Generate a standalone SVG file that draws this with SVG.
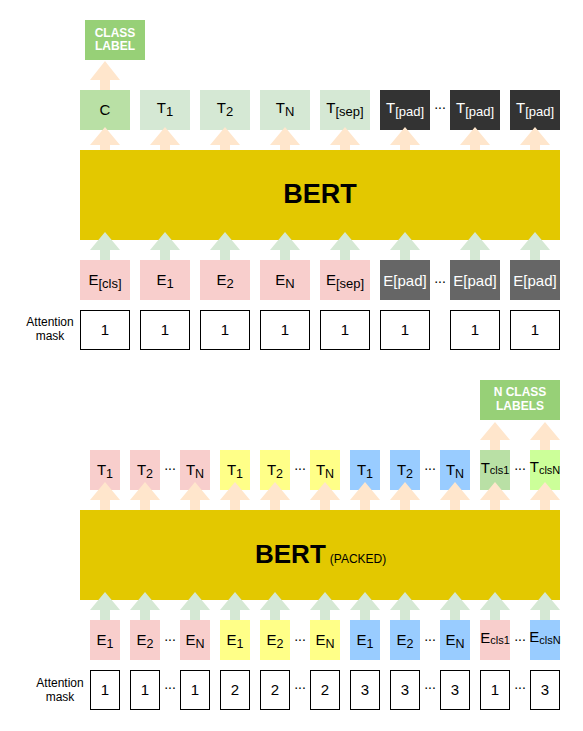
<svg xmlns="http://www.w3.org/2000/svg" width="583" height="731" viewBox="0 0 583 731">
<style>
text{font-family:"Liberation Sans",Arial,sans-serif;fill:#000}
.t{font-size:15px;text-anchor:middle}
.w{fill:#fff}
.lbl{font-size:12px;font-weight:bold;text-anchor:middle;fill:#fff}
.am{font-size:12px;text-anchor:middle}
.dots{font-size:14px;text-anchor:middle}
.m{fill:#fff;stroke:#000;stroke-width:1}
.up{fill:#ffe6cc}
.dn{fill:#d5e8d4}
.pink{fill:#f8cecc}
.lg{fill:#d5e8d4}
.cg{fill:#b9e0a5}
.dk{fill:#333333}
.gr{fill:#666666}
.yl{fill:#ffff88}
.bl{fill:#99ccff}
.lime{fill:#ccff99}
.cl{fill:#97d077}
.bert{fill:#e3c800}
</style>

<!-- ===== TOP SECTION ===== -->
<g id="class-label"><rect class="cl" x="85" y="20" width="60" height="40"/><text class="lbl" x="115" y="37">CLASS</text><text class="lbl" x="115" y="50">LABEL</text></g>

<g id="t-top-row">
<g id="t-c"><rect class="cg" x="80" y="90" width="50" height="40"/><text class="t" x="105" y="115">C</text></g>
<g id="t-1"><rect class="lg" x="140" y="90" width="50" height="40"/><text class="t" x="165" y="113">T<tspan font-size="13" dy="3">1</tspan></text></g>
<g id="t-2"><rect class="lg" x="200" y="90" width="50" height="40"/><text class="t" x="225" y="113">T<tspan font-size="13" dy="3">2</tspan></text></g>
<g id="t-n"><rect class="lg" x="260" y="90" width="50" height="40"/><text class="t" x="285" y="113">T<tspan font-size="13" dy="3">N</tspan></text></g>
<g id="t-sep"><rect class="lg" x="320" y="90" width="50" height="40"/><text class="t" x="345" y="113">T<tspan font-size="13" dy="3">[sep]</tspan></text></g>
<g id="t-pad1"><rect class="dk" x="380" y="90" width="50" height="40"/><text class="t w" x="405" y="113">T<tspan font-size="13" dy="3">[pad]</tspan></text></g>
<g id="t-pad2"><rect class="dk" x="450" y="90" width="50" height="40"/><text class="t w" x="475" y="113">T<tspan font-size="13" dy="3">[pad]</tspan></text></g>
<g id="t-pad3"><rect class="dk" x="510" y="90" width="50" height="40"/><text class="t w" x="535" y="113">T<tspan font-size="13" dy="3">[pad]</tspan></text></g>
<text class="dots" x="440" y="109">...</text>
</g>

<g id="bert-top"><rect class="bert" x="80" y="150" width="480" height="90"/><text x="320" y="203" font-size="27" font-weight="bold" text-anchor="middle">BERT</text></g>

<g id="e-top-row">
<g id="e-cls"><rect class="pink" x="80" y="260" width="50" height="40"/><text class="t" x="105" y="285">E<tspan font-size="13" dy="3">[cls]</tspan></text></g>
<g id="e-1"><rect class="pink" x="140" y="260" width="50" height="40"/><text class="t" x="165" y="285">E<tspan font-size="13" dy="3">1</tspan></text></g>
<g id="e-2"><rect class="pink" x="200" y="260" width="50" height="40"/><text class="t" x="225" y="285">E<tspan font-size="13" dy="3">2</tspan></text></g>
<g id="e-n"><rect class="pink" x="260" y="260" width="50" height="40"/><text class="t" x="285" y="285">E<tspan font-size="13" dy="3">N</tspan></text></g>
<g id="e-sep"><rect class="pink" x="320" y="260" width="50" height="40"/><text class="t" x="345" y="285">E<tspan font-size="13" dy="3">[sep]</tspan></text></g>
<g id="e-pad1"><rect class="gr" x="380" y="260" width="50" height="40"/><text class="t w" x="405" y="286">E[pad]</text></g>
<g id="e-pad2"><rect class="gr" x="450" y="260" width="50" height="40"/><text class="t w" x="475" y="286">E[pad]</text></g>
<g id="e-pad3"><rect class="gr" x="510" y="260" width="50" height="40"/><text class="t w" x="535" y="286">E[pad]</text></g>
<text class="dots" x="440" y="283">...</text>
</g>

<g id="mask-top">
<text class="am" x="50" y="326">Attention</text><text class="am" x="50" y="340">mask</text>
<rect class="m" x="80.5" y="310.5" width="49" height="39"/><text class="t" x="105" y="335">1</text>
<rect class="m" x="140.5" y="310.5" width="49" height="39"/><text class="t" x="165" y="335">1</text>
<rect class="m" x="200.5" y="310.5" width="49" height="39"/><text class="t" x="225" y="335">1</text>
<rect class="m" x="260.5" y="310.5" width="49" height="39"/><text class="t" x="285" y="335">1</text>
<rect class="m" x="320.5" y="310.5" width="49" height="39"/><text class="t" x="345" y="335">1</text>
<rect class="m" x="380.5" y="310.5" width="49" height="39"/><text class="t" x="405" y="335">1</text>
<rect class="m" x="450.5" y="310.5" width="49" height="39"/><text class="t" x="475" y="335">1</text>
<rect class="m" x="510.5" y="310.5" width="49" height="39"/><text class="t" x="535" y="335">1</text>
</g>

<!-- ===== BOTTOM SECTION ===== -->
<g id="n-class-labels"><rect class="cl" x="480" y="380" width="80" height="40"/><text class="lbl" x="520" y="396">N CLASS</text><text class="lbl" x="520" y="410">LABELS</text></g>

<g id="t-bottom-row">
<rect class="pink" x="90" y="450" width="30" height="40"/><text class="t" x="105" y="475" font-size="16">T<tspan font-size="12.5" dy="3">1</tspan></text>
<rect class="pink" x="130" y="450" width="30" height="40"/><text class="t" x="145" y="475" font-size="16">T<tspan font-size="12.5" dy="3">2</tspan></text>
<rect class="pink" x="180" y="450" width="30" height="40"/><text class="t" x="195" y="475" font-size="16">T<tspan font-size="12.5" dy="3">N</tspan></text>
<rect class="yl" x="220" y="450" width="30" height="40"/><text class="t" x="235" y="475" font-size="16">T<tspan font-size="12.5" dy="3">1</tspan></text>
<rect class="yl" x="260" y="450" width="30" height="40"/><text class="t" x="275" y="475" font-size="16">T<tspan font-size="12.5" dy="3">2</tspan></text>
<rect class="yl" x="310" y="450" width="30" height="40"/><text class="t" x="325" y="475" font-size="16">T<tspan font-size="12.5" dy="3">N</tspan></text>
<rect class="bl" x="350" y="450" width="30" height="40"/><text class="t" x="365" y="475" font-size="16">T<tspan font-size="12.5" dy="3">1</tspan></text>
<rect class="bl" x="390" y="450" width="30" height="40"/><text class="t" x="405" y="475" font-size="16">T<tspan font-size="12.5" dy="3">2</tspan></text>
<rect class="bl" x="440" y="450" width="30" height="40"/><text class="t" x="455" y="475" font-size="16">T<tspan font-size="12.5" dy="3">N</tspan></text>
<rect class="cg" x="480" y="450" width="30" height="40"/><text class="t" x="495" y="473" font-size="12">T<tspan font-size="11" dy="1">cls1</tspan></text>
<rect class="lime" x="530" y="450" width="30" height="40"/><text class="t" x="545" y="472" font-size="10">T<tspan font-size="11" dy="2">clsN</tspan></text>
<text class="dots" x="170" y="470">...</text>
<text class="dots" x="300" y="470">...</text>
<text class="dots" x="430" y="470">...</text>
<text class="dots" x="520" y="470">...</text>
</g>

<g id="bert-packed"><rect class="bert" x="80" y="510" width="480" height="90"/><text x="255" y="563" font-size="26" font-weight="bold">BERT<tspan font-size="12" font-weight="normal" dx="4">(PACKED)</tspan></text></g>

<g id="e-bottom-row">
<rect class="pink" x="90" y="620" width="30" height="40"/><text class="t" x="105" y="645">E<tspan font-size="12.5" dy="3">1</tspan></text>
<rect class="pink" x="130" y="620" width="30" height="40"/><text class="t" x="145" y="645">E<tspan font-size="12.5" dy="3">2</tspan></text>
<rect class="pink" x="180" y="620" width="30" height="40"/><text class="t" x="195" y="645">E<tspan font-size="12.5" dy="3">N</tspan></text>
<rect class="yl" x="220" y="620" width="30" height="40"/><text class="t" x="235" y="645">E<tspan font-size="12.5" dy="3">1</tspan></text>
<rect class="yl" x="260" y="620" width="30" height="40"/><text class="t" x="275" y="645">E<tspan font-size="12.5" dy="3">2</tspan></text>
<rect class="yl" x="310" y="620" width="30" height="40"/><text class="t" x="325" y="645">E<tspan font-size="12.5" dy="3">N</tspan></text>
<rect class="bl" x="350" y="620" width="30" height="40"/><text class="t" x="365" y="645">E<tspan font-size="12.5" dy="3">1</tspan></text>
<rect class="bl" x="390" y="620" width="30" height="40"/><text class="t" x="405" y="645">E<tspan font-size="12.5" dy="3">2</tspan></text>
<rect class="bl" x="440" y="620" width="30" height="40"/><text class="t" x="455" y="645">E<tspan font-size="12.5" dy="3">N</tspan></text>
<rect class="pink" x="480" y="620" width="30" height="40"/><text class="t" x="495" y="643" font-size="12">E<tspan font-size="11" dy="1">cls1</tspan></text>
<rect class="bl" x="530" y="620" width="30" height="40"/><text class="t" x="545" y="642" font-size="10">E<tspan font-size="11" dy="2">clsN</tspan></text>
<text class="dots" x="170" y="641">...</text>
<text class="dots" x="300" y="641">...</text>
<text class="dots" x="430" y="641">...</text>
<text class="dots" x="520" y="641">...</text>
</g>

<g id="mask-bottom">
<text class="am" x="60" y="687">Attention</text><text class="am" x="60" y="701">mask</text>
<rect class="m" x="90.5" y="670.5" width="29" height="39"/><text class="t" x="105" y="695">1</text>
<rect class="m" x="130.5" y="670.5" width="29" height="39"/><text class="t" x="145" y="695">1</text>
<rect class="m" x="180.5" y="670.5" width="29" height="39"/><text class="t" x="195" y="695">1</text>
<rect class="m" x="220.5" y="670.5" width="29" height="39"/><text class="t" x="235" y="695">2</text>
<rect class="m" x="260.5" y="670.5" width="29" height="39"/><text class="t" x="275" y="695">2</text>
<rect class="m" x="310.5" y="670.5" width="29" height="39"/><text class="t" x="325" y="695">2</text>
<rect class="m" x="350.5" y="670.5" width="29" height="39"/><text class="t" x="365" y="695">3</text>
<rect class="m" x="390.5" y="670.5" width="29" height="39"/><text class="t" x="405" y="695">3</text>
<rect class="m" x="440.5" y="670.5" width="29" height="39"/><text class="t" x="455" y="695">3</text>
<rect class="m" x="480.5" y="670.5" width="29" height="39"/><text class="t" x="495" y="695">1</text>
<rect class="m" x="530.5" y="670.5" width="29" height="39"/><text class="t" x="545" y="695">3</text>
<text class="dots" x="170" y="689">...</text>
<text class="dots" x="300" y="689">...</text>
<text class="dots" x="430" y="689">...</text>
<text class="dots" x="520" y="689">...</text>
</g>

<!-- ===== CONNECTORS ===== -->
<g id="connectors">
<polygon class="up" points="105,61 120,80 110,80 110,90 100,90 100,80 90,80"/>
<polygon class="up" points="105,127 120,145 110,145 110,150 100,150 100,145 90,145"/>
<polygon class="up" points="165,127 180,145 170,145 170,150 160,150 160,145 150,145"/>
<polygon class="up" points="225,127 240,145 230,145 230,150 220,150 220,145 210,145"/>
<polygon class="up" points="285,127 300,145 290,145 290,150 280,150 280,145 270,145"/>
<polygon class="up" points="345,127 360,145 350,145 350,150 340,150 340,145 330,145"/>
<polygon class="up" points="405,127 420,145 410,145 410,150 400,150 400,145 390,145"/>
<polygon class="up" points="475,127 490,145 480,145 480,150 470,150 470,145 460,145"/>
<polygon class="up" points="535,127 550,145 540,145 540,150 530,150 530,145 520,145"/>

<polygon class="dn" points="105,232 120,250 110,250 110,260 100,260 100,250 90,250"/>
<polygon class="dn" points="165,232 180,250 170,250 170,260 160,260 160,250 150,250"/>
<polygon class="dn" points="225,232 240,250 230,250 230,260 220,260 220,250 210,250"/>
<polygon class="dn" points="285,232 300,250 290,250 290,260 280,260 280,250 270,250"/>
<polygon class="dn" points="345,232 360,250 350,250 350,260 340,260 340,250 330,250"/>
<polygon class="dn" points="405,232 420,250 410,250 410,260 400,260 400,250 390,250"/>
<polygon class="dn" points="475,232 490,250 480,250 480,260 470,260 470,250 460,250"/>
<polygon class="dn" points="535,232 550,250 540,250 540,260 530,260 530,250 520,250"/>

<polygon class="up" points="495,422 510,440 500,440 500,450 490,450 490,440 480,440"/>
<polygon class="up" points="545,422 560,440 550,440 550,450 540,450 540,440 530,440"/>

<polygon class="up" points="105,482 120,500 110,500 110,510 100,510 100,500 90,500"/>
<polygon class="up" points="145,482 160,500 150,500 150,510 140,510 140,500 130,500"/>
<polygon class="up" points="195,482 210,500 200,500 200,510 190,510 190,500 180,500"/>
<polygon class="up" points="235,482 250,500 240,500 240,510 230,510 230,500 220,500"/>
<polygon class="up" points="275,482 290,500 280,500 280,510 270,510 270,500 260,500"/>
<polygon class="up" points="325,482 340,500 330,500 330,510 320,510 320,500 310,500"/>
<polygon class="up" points="365,482 380,500 370,500 370,510 360,510 360,500 350,500"/>
<polygon class="up" points="405,482 420,500 410,500 410,510 400,510 400,500 390,500"/>
<polygon class="up" points="455,482 470,500 460,500 460,510 450,510 450,500 440,500"/>
<polygon class="up" points="495,482 510,500 500,500 500,510 490,510 490,500 480,500"/>
<polygon class="up" points="545,482 560,500 550,500 550,510 540,510 540,500 530,500"/>

<polygon class="dn" points="105,592 120,610 110,610 110,620 100,620 100,610 90,610"/>
<polygon class="dn" points="145,592 160,610 150,610 150,620 140,620 140,610 130,610"/>
<polygon class="dn" points="195,592 210,610 200,610 200,620 190,620 190,610 180,610"/>
<polygon class="dn" points="235,592 250,610 240,610 240,620 230,620 230,610 220,610"/>
<polygon class="dn" points="275,592 290,610 280,610 280,620 270,620 270,610 260,610"/>
<polygon class="dn" points="325,592 340,610 330,610 330,620 320,620 320,610 310,610"/>
<polygon class="dn" points="365,592 380,610 370,610 370,620 360,620 360,610 350,610"/>
<polygon class="dn" points="405,592 420,610 410,610 410,620 400,620 400,610 390,610"/>
<polygon class="dn" points="455,592 470,610 460,610 460,620 450,620 450,610 440,610"/>
<polygon class="dn" points="495,592 510,610 500,610 500,620 490,620 490,610 480,610"/>
<polygon class="dn" points="545,592 560,610 550,610 550,620 540,620 540,610 530,610"/>
</g>
</svg>
